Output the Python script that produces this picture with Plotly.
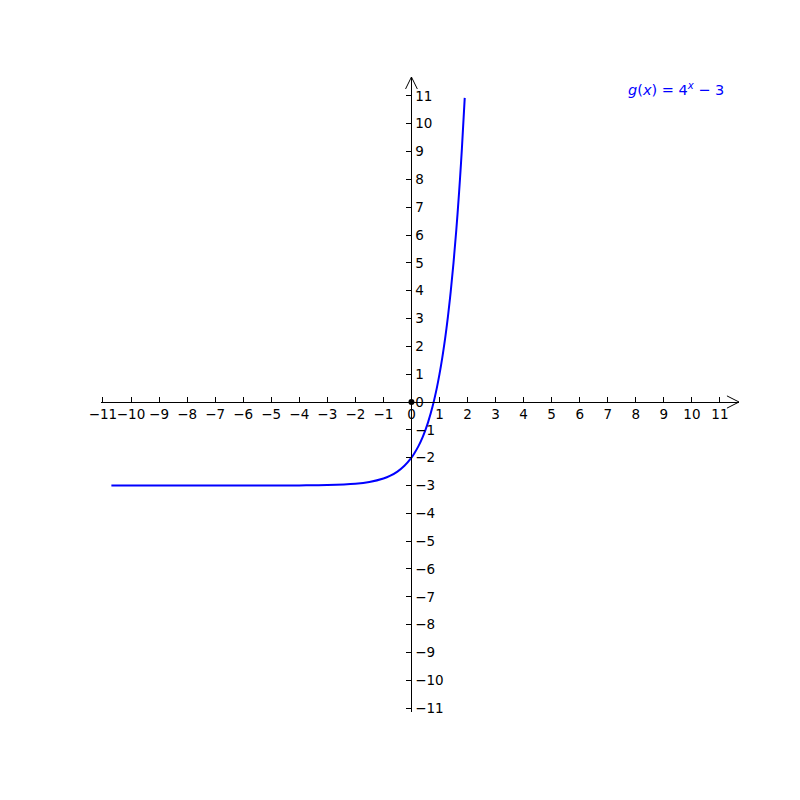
import plotly.graph_objects as go

xs = [-10.7, -8, -6, -4, -3, -2, -1.5, -1, -0.75, -0.5, -0.25, 0, 0.1, 0.25, 0.4, 0.5,
      0.6, 0.75, 0.9, 1, 1.1, 1.2, 1.25, 1.3, 1.4, 1.5, 1.6, 1.7, 1.75, 1.8, 1.9]
ys = [-3, -3, -3, -2.996, -2.984, -2.9375, -2.875, -2.75, -2.646, -2.5, -2.293, -2, -1.851,
      -1.586, -1.259, -1, -0.703, -0.172, 0.482, 1, 1.595, 2.278, 2.657, 3.063, 3.964, 5,
      6.19, 7.556, 8.314, 9.125, 10.93]

ticks = list(range(-11, 12))
label = "<i>g</i>(<i>x</i>) = 4<sup><i>x</i></sup> − 3"

# axis ranges (the axes cross at the origin)
xlo, xhi = -11.07, 11.68
ylo, yhi = -11.14, 11.68

fig = go.Figure()
fig.add_trace(go.Scatter(x=xs, y=ys, mode="lines", line=dict(color="#0000ff", width=2),
                         line_shape="spline", hoverinfo="skip"))
fig.add_trace(go.Scatter(x=[0], y=[0], mode="markers", marker=dict(color="black", size=6),
                         hoverinfo="skip"))

axfont = dict(family="DejaVu Sans", size=13.5, color="black")
# page body adds an 8px offset, so margins are shifted to compensate
fig.update_layout(
    width=800, height=800,
    paper_bgcolor="white", plot_bgcolor="white",
    margin=dict(l=93, r=69, t=69, b=96, autoexpand=False),
    showlegend=False,
    xaxis=dict(range=[xlo, xhi], tickvals=ticks, ticks="inside", ticklen=5, tickcolor="black",
               showline=True, linecolor="black", linewidth=1, showgrid=False, zeroline=False,
               anchor="free", position=(0 - ylo) / (yhi - ylo), tickfont=axfont,
               tickangle=0, automargin=False),
    yaxis=dict(range=[ylo, yhi], tickvals=ticks, ticks="inside", ticklen=5, tickcolor="black",
               showline=True, linecolor="black", linewidth=1, showgrid=False, zeroline=False,
               side="right", anchor="free", position=(0 - xlo) / (xhi - xlo), tickfont=axfont,
               automargin=False),
)

# open arrow heads at the ends of the axes
fig.add_shape(type="path", xref="x", yref="y", path=f"M {xhi-0.43},0.22 L {xhi},0 L {xhi-0.43},-0.22",
              line=dict(color="black", width=1))
fig.add_shape(type="path", xref="x", yref="y", path=f"M -0.21,{yhi-0.43} L 0,{yhi} L 0.21,{yhi-0.43}",
              line=dict(color="black", width=1))

fig.add_annotation(x=11.2, y=11.25, xref="x", yref="y", text=label, showarrow=False,
                   xanchor="right", yanchor="middle",
                   font=dict(family="DejaVu Sans", size=14.5, color="#0000ff"))

fig.write_html("out.html")
